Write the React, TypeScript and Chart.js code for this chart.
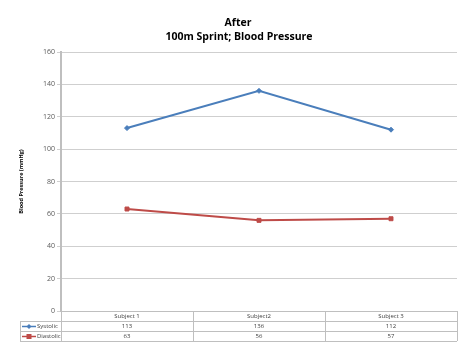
import React, { useEffect, useRef } from "react";
import { Chart, registerables } from "chart.js";

Chart.register(...registerables);

const categories = ["Subject 1", "Subject2", "Subject 3"];
const systolic = [113, 136, 112];
const diastolic = [63, 56, 57];
const seriesNames = ["Systolic", "Diastolic"];
const titleLines = ["After", "100m Sprint; Blood Pressure"];
const yTitle = "Blood Pressure (mmHg)";

const BLUE = "#4A7EBB";
const RED = "#BE4B48";
const GRID = "#cfcfcf";
const FONT = "'Open Sans', 'Liberation Sans', sans-serif";

const tablePlugin = {
  id: "dataTable",
  afterDraw(chart: any) {
    const ctx = chart.ctx;
    const xs = chart.scales.x;
    const ca = chart.chartArea;
    const rowH = 10;
    const top = ca.bottom;
    const legendLeft = 20;
    ctx.save();
    // title
    ctx.fillStyle = "#000";
    ctx.font = `bold 10.5px ${FONT}`;
    ctx.textAlign = "center";
    ctx.textBaseline = "middle";
    ctx.fillText(titleLines[0], 238, 23);
    ctx.fillText(titleLines[1], 239, 37);

    ctx.strokeStyle = "#bfbfbf";
    ctx.lineWidth = 1;
    const colEdges: number[] = [];
    const n = categories.length;
    const colW = (ca.right - ca.left) / n;
    for (let i = 0; i <= n; i++) colEdges.push(ca.left + colW * i);
    const hLine = (x1: number, x2: number, y: number) => {
      ctx.beginPath();
      ctx.moveTo(Math.round(x1), Math.round(y) + 0.5);
      ctx.lineTo(Math.round(x2), Math.round(y) + 0.5);
      ctx.stroke();
    };
    const vLine = (x: number, y1: number, y2: number) => {
      ctx.beginPath();
      ctx.moveTo(Math.round(x) + 0.5, Math.round(y1));
      ctx.lineTo(Math.round(x) + 0.5, Math.round(y2));
      ctx.stroke();
    };
    hLine(ca.left, ca.right, top);
    hLine(legendLeft, ca.right, top + rowH);
    hLine(legendLeft, ca.right, top + rowH * 2);
    hLine(legendLeft, ca.right, top + rowH * 3);
    vLine(legendLeft, top + rowH, top + rowH * 3);
    colEdges.forEach((x) => vLine(x, top, top + rowH * 3));

    ctx.font = `6px ${FONT}`;
    ctx.fillStyle = "#404040";
    ctx.textAlign = "center";
    categories.forEach((c, i) => {
      const cx = xs.getPixelForValue(i);
      ctx.fillText(c, cx, top + rowH / 2 + 0.5);
      ctx.fillText(String(systolic[i]), cx, top + rowH * 1.5 + 0.5);
      ctx.fillText(String(diastolic[i]), cx, top + rowH * 2.5 + 0.5);
    });
    const keys = [
      { name: seriesNames[0], color: BLUE, shape: "diamond" },
      { name: seriesNames[1], color: RED, shape: "square" },
    ];
    keys.forEach((k, i) => {
      const cy = top + rowH * (1.5 + i) + 0.5;
      ctx.strokeStyle = k.color;
      ctx.fillStyle = k.color;
      ctx.lineWidth = 1.5;
      ctx.beginPath();
      ctx.moveTo(22, cy);
      ctx.lineTo(36, cy);
      ctx.stroke();
      if (k.shape === "diamond") {
        ctx.beginPath();
        ctx.moveTo(29, cy - 2.5);
        ctx.lineTo(31.5, cy);
        ctx.lineTo(29, cy + 2.5);
        ctx.lineTo(26.5, cy);
        ctx.closePath();
        ctx.fill();
      } else {
        ctx.fillRect(26.5, cy - 2.5, 5, 5);
      }
      ctx.fillStyle = "#404040";
      ctx.textAlign = "left";
      ctx.font = `6px ${FONT}`;
      ctx.fillText(k.name, 37, cy);
    });
    ctx.restore();
  },
};

export default function App() {
  const ref = useRef<HTMLCanvasElement | null>(null);
  useEffect(() => {
    document.body.style.margin = "0";
    const canvas = ref.current!;
    const chart = new Chart(canvas, {
      type: "line",
      data: {
        labels: categories,
        datasets: [
          {
            label: seriesNames[0],
            data: systolic,
            borderColor: BLUE,
            backgroundColor: BLUE,
            borderWidth: 2,
            pointStyle: "rectRot",
            pointRadius: 2.5,
            pointBorderWidth: 1,
            tension: 0,
          },
          {
            label: seriesNames[1],
            data: diastolic,
            borderColor: RED,
            backgroundColor: RED,
            borderWidth: 2,
            pointStyle: "rect",
            pointRadius: 2.8,
            pointBorderWidth: 1,
            tension: 0,
          },
        ],
      },
      options: {
        animation: false,
        responsive: false,
        maintainAspectRatio: false,
        layout: { padding: { left: 0, right: 17, top: 52, bottom: 44 } },
        plugins: {
          legend: { display: false },
          title: { display: false },
          tooltip: { enabled: false },
        },
        scales: {
          x: {
            offset: true,
            ticks: { display: false },
            grid: { display: false, drawTicks: false },
            border: { display: false },
            afterFit: (s: any) => {
              s.height = 0;
            },
          },
          y: {
            min: 0,
            max: 160,
            ticks: {
              stepSize: 20,
              padding: 2,
              color: "#595959",
              font: { size: 7, family: FONT },
            },
            grid: { color: GRID, lineWidth: 1, tickLength: 4 },
            border: { color: "#bfbfbf", width: 2 },
            title: {
              display: true,
              text: yTitle,
              color: "#000",
              font: { size: 5.5, weight: "bold", family: FONT },
              padding: { top: 18, bottom: 0 },
            },
            afterFit: (s: any) => {
              s.width = 61;
            },
          },
        },
      },
      plugins: [tablePlugin],
    });
    return () => chart.destroy();
  }, []);
  return <canvas ref={ref} width={474} height={355} style={{ display: "block" }} />;
}
